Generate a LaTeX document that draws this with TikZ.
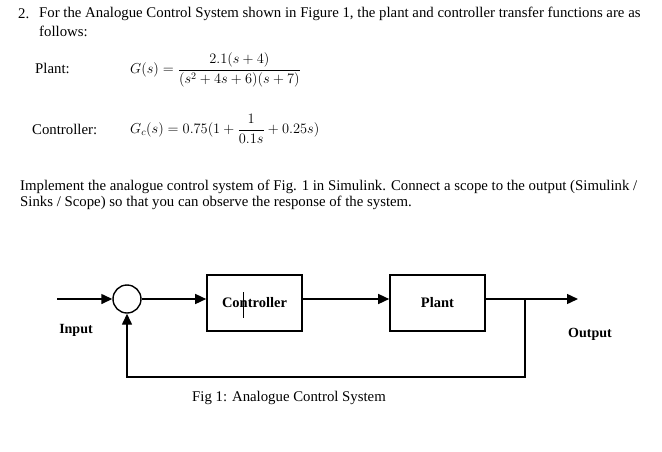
\documentclass[tikz,border=0pt]{standalone}
\usepackage{amsmath}
\usepackage{fontspec}
\setmainfont{Liberation Serif}
\usetikzlibrary{arrows.meta}
\begin{document}
\begin{tikzpicture}[x=1pt,y=-1pt,
  txt/.style={anchor=west,inner sep=0pt,font=\fontsize{14.8}{16}\selectfont},
  blk/.style={draw,line width=1.6pt,minimum width=95pt,minimum height=56pt,font=\bfseries\fontsize{14.5}{16}\selectfont},
  sig/.style={line width=1.4pt,-{Triangle[length=11pt,width=10pt]}},
  wire/.style={line width=1.4pt}]
\useasboundingbox (0,0) rectangle (662,451);
\node[txt] (n2) at (18,14) {2.};
\node[txt] (l1) at (39,14) {For the Analogue Control System shown in Figure 1, the plant and controller transfer functions are as};
\node[txt] (l2) at (39,31) {follows:};
\node[txt] (pl) at (35,68) {Plant:};
\node[txt] (gs) at (130,70) {$G(s)=\dfrac{2.1(s+4)}{(s^2+4s+6)(s+7)}$};
\node[txt] (ct) at (32,129) {Controller:};
\node[txt] (gcs) at (130,129) {$G_c(s)=0.75(1+\dfrac{1}{0.1s}+0.25s)$};
\node[txt] (i1) at (20,187) {Implement the analogue control system of Fig. 1 in Simulink. Connect a scope to the output (Simulink /};
\node[txt] (i2) at (20,203) {Sinks / Scope) so that you can observe the response of the system.};

\node[draw,circle,line width=1.4pt,minimum size=28pt,inner sep=0pt] (sum) at (127,299) {};
\node[blk] (ctrl) at (254.5,303) {Controller};
\node[blk] (plant) at (437.5,303) {Plant};
\coordinate (in) at (57,299);
\coordinate (out) at (578,299);
\coordinate (br) at (525,299);
\coordinate (fb1) at (525,377);
\coordinate (fb2) at (127,377);
\draw[sig] (in) -- (sum);
\draw[sig] (sum) -- (ctrl.west|-sum);
\draw[sig] (ctrl.east|-sum) -- (plant.west|-sum);
\draw[sig] (plant.east|-sum) -- (out);
\draw[sig] (br) -- (fb1) -- (fb2) -- (sum.south);
\draw[line width=0.4pt] (243,292) -- (243,318);
\node[font=\bfseries\fontsize{14}{15}\selectfont] (inl) at (76,330) {Input};
\node[font=\bfseries\fontsize{14}{15}\selectfont] (outl) at (590,334) {Output};
\node[font=\fontsize{14.8}{16}\selectfont] (cap) at (289,398) {Fig 1: Analogue Control System};
\end{tikzpicture}
\end{document}
